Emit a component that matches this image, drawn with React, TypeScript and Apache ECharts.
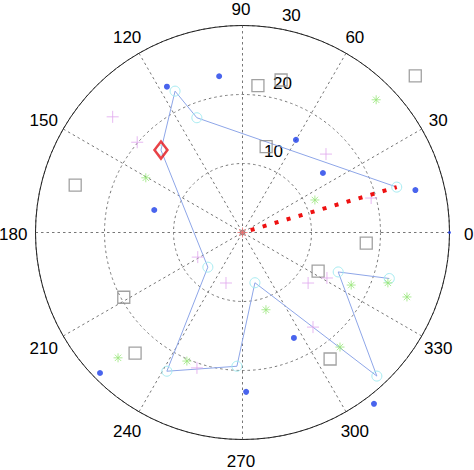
import React, { useEffect, useRef } from "react";
import * as echarts from "echarts";

// ---- data (radius, angle in degrees) ----
const angleTicks = [0, 30, 60, 90, 120, 150, 180, 210, 240, 270, 300, 330];
const radiusTicks = [10, 20, 30];

const polyline = [
  [23.3, 16.4], [17.9, 111.7], [22.7, 115.5], [16.8, 134.7], [7.1, 225.0],
  [22.9, 241.4], [19.4, 267.6], [7.5, 283.9], [28.5, 313.1], [15.0, 337.6], [22.3, 342.6],
];
const blueDots = [
  [23.8, 117.4], [22.9, 98.5], [13.2, 165.7], [15.5, 60.0], [14.5, 36.5],
  [25.8, 13.8], [29.0, 224.6], [17.0, 296.0], [23.1, 271.3], [31.3, 307.5],
];
const blueTinyDots = [[30, 0]];
const squares = [
  [25.2, 164.2], [21.4, 84.0], [22.8, 75.8], [12.9, 74.6], [33.8, 42.2],
  [18.0, 355.1], [12.3, 333.0], [19.6, 208.6], [23.4, 228.3], [22.3, 304.7],
];
const asterisks = [
  [16.1, 150.5], [27.3, 44.8], [11.5, 24.2], [17.5, 334.2], [22.3, 340.9],
  [25.6, 338.6], [11.7, 286.9], [21.8, 310.4], [25.6, 225.2], [20.3, 246.6],
];
const pluses = [
  [25.2, 138.3], [20.1, 139.4], [16.6, 43.2], [19.3, 15.0], [7.4, 208.8],
  [7.7, 251.9], [12.0, 322.4], [13.9, 331.7], [17.1, 306.7], [20.7, 251.4],
];
const diamondPoint = [[16.8, 134.7]];
const redRay = [[0, 0], [23.3, 16.4]];
const centerStar = [[0, 0]];

// ---- layout ----
const W = 474;
const H = 470;
const CX = 242.5;
const CY = 232.5;
const R = 207;
const RMAX = 30;
const FONT_SIZE = 17;
const FONT = "'Liberation Sans', Arial, Helvetica, sans-serif";

const PLUS_PATH = "path://M0,5L10,5M5,0L5,10";
const STAR_PATH = "path://M0,5L10,5M5,0L5,10M1.46,1.46L8.54,8.54M1.46,8.54L8.54,1.46";

export default function App() {
  const ref = useRef<HTMLDivElement>(null);

  useEffect(() => {
    if (!ref.current) return;
    const chart = echarts.init(ref.current, undefined, { renderer: "svg" });

    const half = FONT_SIZE / 2 + 0.5;
    const labelGraphics: any[] = [];
    angleTicks.forEach((a) => {
      const rad = (a * Math.PI) / 180;
      let y = CY + 2 - 1.1 * R * Math.sin(rad);
      // keep labels inside the page
      y = Math.min(Math.max(y, half), H - half);
      labelGraphics.push({
        type: "text",
        x: CX - 1.5 + 1.1 * R * Math.cos(rad),
        y,
        style: {
          text: String(a),
          font: `${FONT_SIZE}px ${FONT}`,
          fill: "#000",
          align: "center",
          verticalAlign: "middle",
          textAlign: "center",
          textVerticalAlign: "middle",
        },
      });
    });
    radiusTicks.forEach((rv) => {
      const rpx = (rv / RMAX) * R;
      labelGraphics.push({
        type: "text",
        x: CX + 12.5 + rpx * 0.13,
        y: CY - 13 - rpx * 0.985,
        style: {
          text: String(rv),
          font: `${FONT_SIZE}px ${FONT}`,
          fill: "#000",
          align: "left",
          verticalAlign: "middle",
          textAlign: "left",
          textVerticalAlign: "middle",
        },
      });
    });

    const transparent = "rgba(0,0,0,0)";

    chart.setOption({
      animation: false,
      backgroundColor: "#fff",
      polar: { center: [CX, CY], radius: R },
      angleAxis: {
        type: "value",
        min: 0,
        max: 360,
        interval: 30,
        startAngle: 0,
        clockwise: false,
        axisLine: { show: true, lineStyle: { color: "#222", width: 1 } },
        axisTick: { show: false },
        axisLabel: { show: false },
        splitLine: { show: true, lineStyle: { color: "#777", width: 1, type: [2.5, 3] } },
      },
      radiusAxis: {
        type: "value",
        min: 0,
        max: RMAX,
        interval: 10,
        axisLine: { show: false },
        axisTick: { show: false },
        axisLabel: { show: false },
        splitLine: { show: true, lineStyle: { color: "#777", width: 1, type: [2.5, 3] } },
      },
      graphic: labelGraphics,
      series: [
        {
          type: "line",
          coordinateSystem: "polar",
          data: polyline,
          clip: false,
          showSymbol: true,
          showAllSymbol: true,
          symbol: "circle",
          symbolSize: 10,
          itemStyle: { color: transparent, borderColor: "#a6ecf2", borderWidth: 1 },
          lineStyle: { color: "#8ea6e8", width: 1 },
          z: 2,
        },
        {
          type: "scatter",
          coordinateSystem: "polar",
          data: squares,
          clip: false,
          symbol: "rect",
          symbolSize: 12,
          itemStyle: { color: transparent, borderColor: "#8a8a8a", borderWidth: 1.3 },
          z: 3,
        },
        {
          type: "scatter",
          coordinateSystem: "polar",
          data: asterisks,
          clip: false,
          symbol: STAR_PATH,
          symbolSize: 9,
          itemStyle: { color: transparent, borderColor: "#98e67a", borderWidth: 1 },
          z: 3,
        },
        {
          type: "scatter",
          coordinateSystem: "polar",
          data: pluses,
          clip: false,
          symbol: PLUS_PATH,
          symbolSize: 12,
          itemStyle: { color: transparent, borderColor: "#e0a6ee", borderWidth: 1 },
          z: 3,
        },
        {
          type: "scatter",
          coordinateSystem: "polar",
          data: blueDots,
          clip: false,
          symbol: "circle",
          symbolSize: 6,
          itemStyle: { color: "#1c3de8" },
          z: 4,
        },
        {
          type: "scatter",
          coordinateSystem: "polar",
          data: blueTinyDots,
          clip: false,
          symbol: "circle",
          symbolSize: 3,
          itemStyle: { color: "#1c3de8" },
          z: 4,
        },
        {
          type: "line",
          coordinateSystem: "polar",
          data: redRay,
          clip: false,
          symbol: "none",
          lineStyle: { color: "#ee1111", width: 4, type: [4, 8.5], dashOffset: 3.6, cap: "butt" },
          z: 5,
        },
        {
          type: "scatter",
          coordinateSystem: "polar",
          data: diamondPoint,
          clip: false,
          symbol: "diamond",
          symbolSize: [13, 17],
          itemStyle: { color: transparent, borderColor: "#e8141a", borderWidth: 2.5 },
          z: 6,
        },
        {
          type: "scatter",
          coordinateSystem: "polar",
          data: centerStar,
          clip: false,
          symbol: STAR_PATH,
          symbolSize: 10,
          itemStyle: { color: transparent, borderColor: "#ee7070", borderWidth: 1 },
          z: 6,
        },
      ],
    });

    return () => chart.dispose();
  }, []);

  return (
    <div
      ref={ref}
      style={{ position: "fixed", left: 0, top: 0, width: W, height: H, background: "#fff" }}
    />
  );
}
